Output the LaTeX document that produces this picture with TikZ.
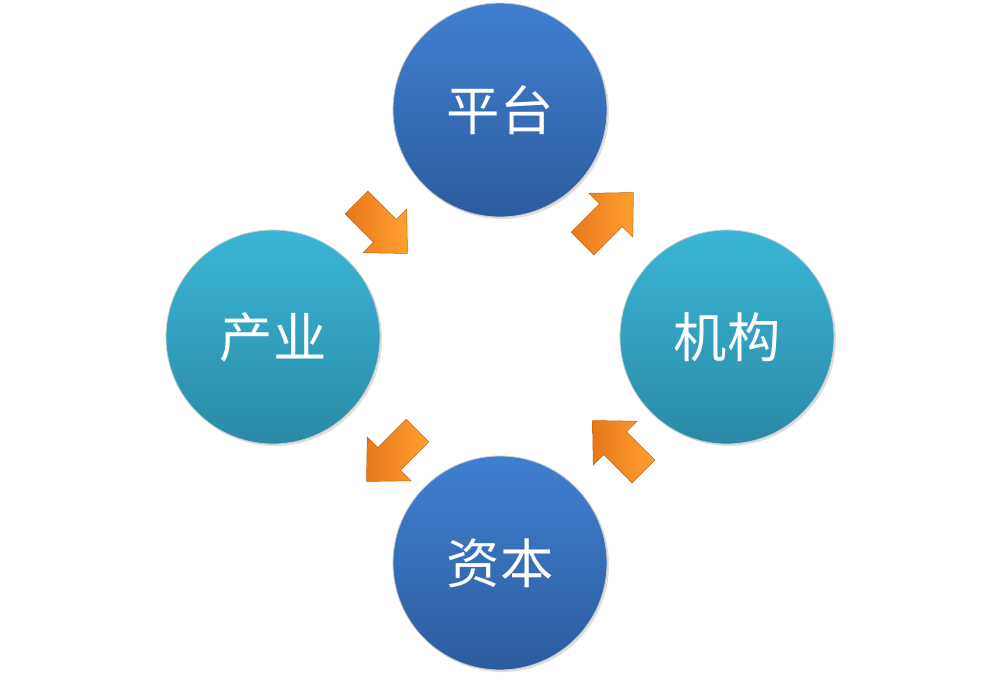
\documentclass[tikz,border=0pt]{standalone}
\usepackage{fontspec}
\newfontfamily\cjk{Noto Sans CJK SC}
\usetikzlibrary{shadows}
\definecolor{bA}{HTML}{4080D0}\definecolor{bB}{HTML}{2C5C9E}
\definecolor{tA}{HTML}{3AB6D6}\definecolor{tB}{HTML}{2A8AA6}
\definecolor{oA}{HTML}{FFA030}\definecolor{oB}{HTML}{E8781A}
\tikzset{
 ball/.style={circle,minimum size=160.5pt,inner sep=0,draw=white!80!black,line width=0.6pt,
   text=white,font=\cjk\fontsize{40}{40}\selectfont,drop shadow={opacity=0.25,shadow xshift=1.5pt,shadow yshift=-1.5pt}},
 blue/.style={ball,top color=bA,bottom color=bB},
 teal/.style={ball,top color=tA,bottom color=tB},
 arr/.style={left color=oB,right color=oA,draw=oB!85!black,line width=0.4pt}
}
\newcommand{\blockarrow}[3]{%
 \begin{scope}[shift={(#1,#2)},rotate=#3]
 \path[arr] (-36,-16) -- (4,-16) -- (4,-31) -- (36,0) -- (4,31) -- (4,16) -- (-36,16) -- cycle;
 \end{scope}}
\begin{document}
\begin{tikzpicture}[x=0.75pt,y=-0.75pt]
\useasboundingbox (0,0) rectangle (1000,681);
\node[blue] (p) at (500,110) {平台};
\node[teal] (j) at (727,337) {机构};
\node[blue] (z) at (500,563) {资本};
\node[teal] (c) at (273,337) {产业};
\blockarrow{382}{228}{-45}
\blockarrow{608}{218}{45}
\blockarrow{618}{446}{135}
\blockarrow{392}{456}{-135}
\end{tikzpicture}
\end{document}
